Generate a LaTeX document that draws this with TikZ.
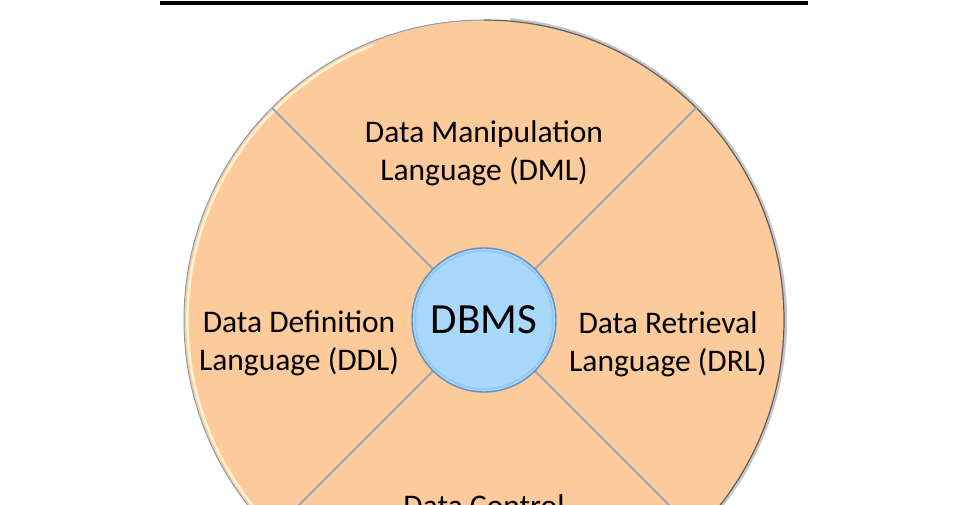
\documentclass[tikz,border=0pt]{standalone}
\usepackage{fontspec}
\setmainfont{Carlito}
\definecolor{peach}{HTML}{FDCB9B}
\definecolor{hilite}{HTML}{FFF4D2}
\definecolor{rimleft}{HTML}{8E9AB4}
\definecolor{rimright}{HTML}{5E5E5E}
\definecolor{divcol}{HTML}{9AA2B6}
\definecolor{dbmsfill}{HTML}{A8D8FC}
\definecolor{dbmsedge}{HTML}{5F8FBF}
\definecolor{dbmsring}{HTML}{95C8F2}
\begin{document}
\begin{tikzpicture}[x=1pt,y=1pt,
  lbl/.style={align=center, font=\fontsize{31.5}{38}\selectfont, text=black},
  divider/.style={draw=divcol, line width=2pt},
  wheel/.style={circle, minimum size=600pt, inner sep=0pt, fill=peach},
  hub/.style={circle, minimum size=144pt, inner sep=0pt, fill=dbmsfill, draw=dbmsedge, line width=1.4pt, font=\fontsize{43}{50}\selectfont}]
\useasboundingbox (0,0) rectangle (960,504);
\clip (0,0) rectangle (960,504);
\fill[white] (0,0) rectangle (960,504);
% title underline
\coordinate (tl) at (160,500.5);
\coordinate (tr) at (808,500.5);
\draw[black, line width=4pt] (tl) -- (tr);
% outer wheel
\coordinate (c) at (484,184);
\draw[gray!45, line width=3pt] (c) ++(-100:301.5) arc[start angle=-100, end angle=85, radius=301.5];
\node[wheel] (outer) at (c) {};
\draw[hilite, line width=2.5pt] (c) ++(112:296.5) arc[start angle=112, end angle=255, radius=296.5];
\draw[rimleft, line width=1pt] (c) ++(90:300) arc[start angle=90, end angle=270, radius=300];
\draw[rimright, line width=1.2pt] (c) ++(-90:300) arc[start angle=-90, end angle=90, radius=300];
% hub
\node[hub] (dbms) at (c) {DBMS};
\draw[dbmsring, line width=2pt] (c) circle (69);
% dividers
\draw[divider] (outer.135) -- (dbms.135);
\draw[divider] (outer.45) -- (dbms.45);
\draw[divider] (outer.-45) -- (dbms.-45);
\draw[divider] (outer.-135) -- (dbms.-135);
% labels
\node[lbl] (dml) at (484,351) {Data Manipulation\\Language (DML)};
\node[lbl] (ddl) at (299,161) {Data Definition\\Language (DDL)};
\node[lbl] (drl) at (668,160) {Data Retrieval\\Language (DRL)};
\node[lbl, anchor=base] (dcl) at (484,-12) {Data Control};
\end{tikzpicture}
\end{document}
